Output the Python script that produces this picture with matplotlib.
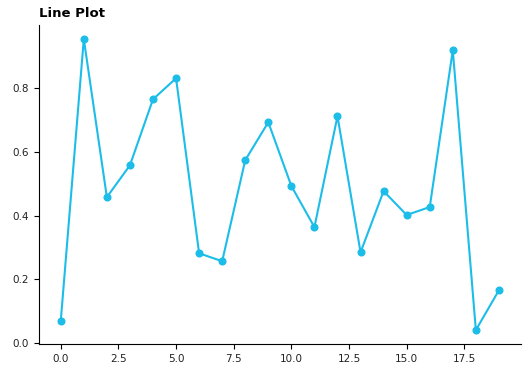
import matplotlib
matplotlib.use("Agg")
import matplotlib.pyplot as plt

# 数据
x_vals = list(range(20))
y_vals = [0.069, 0.954, 0.458, 0.558, 0.765, 0.831, 0.282, 0.257, 0.574, 0.693,
          0.493, 0.364, 0.712, 0.285, 0.477, 0.402, 0.427, 0.919, 0.041, 0.166]

fig = plt.figure(figsize=(5.32, 3.79), dpi=100)
ax = fig.add_axes([0.073, 0.092, 0.906, 0.842])

ax.plot(x_vals, y_vals, color='#1cbde8', linewidth=1.5, marker='o', markersize=4.8)

ax.set_xlim(-0.95, 19.95)
ax.set_ylim(-0.003, 0.998)
ax.set_xticks([0, 2.5, 5, 7.5, 10, 12.5, 15, 17.5])
ax.set_yticks([0.0, 0.2, 0.4, 0.6, 0.8])
ax.tick_params(labelsize=7.5, length=3.5, labelcolor='#222222')

ax.spines['top'].set_visible(False)
ax.spines['right'].set_visible(False)
ax.set_title('Line Plot', loc='left', fontsize=9.5, fontweight='bold')

plt.savefig('out.png', dpi=100)
